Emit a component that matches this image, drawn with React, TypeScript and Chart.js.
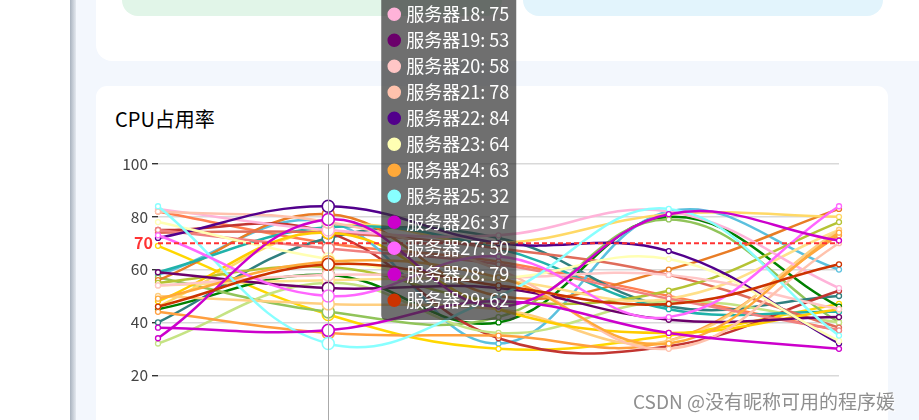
import React, { useEffect, useRef } from 'react';
import { Chart, registerables, Tooltip } from 'chart.js';

Chart.register(...registerables);

const FONT = '"Microsoft YaHei", "Noto Sans CJK SC", "Noto Sans", sans-serif';

const timeLabels = ['00:00', '04:00', '08:00', '12:00', '16:00'];

const serverNames = [
  '服务器0', '服务器1', '服务器2', '服务器3', '服务器4', '服务器5', '服务器6', '服务器7', '服务器8', '服务器9',
  '服务器10', '服务器11', '服务器12', '服务器13', '服务器14', '服务器15', '服务器16', '服务器17', '服务器18', '服务器19',
  '服务器20', '服务器21', '服务器22', '服务器23', '服务器24', '服务器25', '服务器26', '服务器27', '服务器28', '服务器29',
];

const serverColors = [
  '#ff7f50', '#5bc0de', '#ffd700', '#008000', '#91c45a', '#2f7f7f', '#e87c25', '#c23531', '#c5e384', '#ffd966',
  '#20b2aa', '#e06c5a', '#ff9f3f', '#b5c334', '#ffe08a', '#ffcf80', '#f08080', '#ffcc00', '#ffb3d9', '#6b006b',
  '#ffc6c6', '#ffc2ad', '#52008c', '#ffffb3', '#ffa93a', '#88ffff', '#cc00cc', '#ff66ff', '#cc00cc', '#cc3300',
];

const cpuValues = [
  [82, 70, 63, 50, 37],
  [58, 78, 32, 82, 60],
  [69, 43, 30, 35, 47],
  [45, 58, 40, 80, 46],
  [57, 44, 42, 79, 40],
  [40, 72, 72, 46, 50],
  [56, 81, 50, 60, 83],
  [75, 74, 34, 31, 52],
  [32, 55, 36, 48, 40],
  [46, 76, 70, 81, 80],
  [59, 76, 68, 45, 44],
  [74, 74, 68, 58, 38],
  [44, 36, 35, 33, 73],
  [55, 61, 48, 52, 78],
  [54, 56, 56, 49, 75],
  [50, 47, 45, 33, 75],
  [75, 68, 62, 49, 37],
  [48, 74, 45, 36, 45],
  [83, 75, 73, 82, 53],
  [59, 53, 53, 41, 42],
  [54, 58, 57, 58, 45],
  [82, 78, 60, 30, 70],
  [72, 84, 70, 67, 32],
  [78, 64, 57, 64, 33],
  [49, 63, 57, 32, 74],
  [84, 32, 50, 83, 35],
  [38, 37, 48, 36, 30],
  [73, 50, 65, 42, 84],
  [34, 79, 46, 81, 71],
  [46, 62, 54, 47, 62],
];

const yMin = 0;
const yMax = 100;
const yStep = 20;
const threshold = 70;
const hoveredIndex = 1;

(Tooltip.positioners as any).besidePointer = function (items: any[]) {
  if (!items.length) return false;
  const ca = this.chart.chartArea;
  return { x: items[0].element.x + 58, y: ca.top + 156 };
};

const overlayPlugin = {
  id: 'overlay',
  afterDatasetsDraw(chart: any) {
    const { ctx, chartArea: ca, scales } = chart;
    ctx.save();
    const active = chart.getActiveElements();
    if (active.length) {
      const x = Math.round(active[0].element.x) + 0.5;
      ctx.strokeStyle = '#aaaaaa';
      ctx.lineWidth = 1;
      ctx.beginPath();
      ctx.moveTo(x, ca.top);
      ctx.lineTo(x, ca.bottom);
      ctx.stroke();
    }
    const y = scales.y.getPixelForValue(threshold);
    ctx.setLineDash([5, 3]);
    ctx.strokeStyle = '#ff3333';
    ctx.lineWidth = 2;
    ctx.beginPath();
    ctx.moveTo(ca.left, y);
    ctx.lineTo(ca.right, y);
    ctx.stroke();
    ctx.setLineDash([]);
    ctx.fillStyle = '#ff3333';
    ctx.font = `bold 16px ${FONT}`;
    ctx.textAlign = 'right';
    ctx.textBaseline = 'middle';
    ctx.fillText(String(threshold), ca.left - 5, y);
    ctx.restore();
  },
};

function CpuChart() {
  const ref = useRef<HTMLCanvasElement | null>(null);
  useEffect(() => {
    if (!ref.current) return;
    const datasets = cpuValues.map((vals, i) => ({
      label: serverNames[i],
      data: vals,
      borderColor: serverColors[i],
      backgroundColor: serverColors[i],
      borderWidth: 2.5,
      tension: 0.4,
      fill: false,
      pointRadius: 2.5,
      pointBorderWidth: 1.3,
      pointBackgroundColor: '#fff',
      pointBorderColor: serverColors[i],
      pointHoverRadius: 6,
      pointHoverBorderWidth: 1.6,
      pointHoverBackgroundColor: '#fff',
      pointHoverBorderColor: serverColors[i],
      clip: false as any,
      order: -i,
    }));
    const chart = new Chart(ref.current, {
      type: 'line',
      data: { labels: timeLabels, datasets },
      plugins: [overlayPlugin],
      options: {
        animation: false,
        responsive: true,
        maintainAspectRatio: false,
        events: [],
        layout: { padding: { left: 98, right: 80, top: 724, bottom: 42 } },
        scales: {
          x: {
            grid: { display: false },
            border: { display: false },
            ticks: { color: '#444', font: { family: FONT, size: 15 } },
            afterFit: (s: any) => { s.height = 30; },
          },
          y: {
            min: yMin,
            max: yMax,
            ticks: { stepSize: yStep, color: '#444', padding: 4, font: { family: FONT, size: 15.5 } },
            grid: { color: '#d9d9d9', lineWidth: 1.4, tickColor: '#333', tickLength: 6, tickWidth: 1.4 },
            border: { display: false },
            afterFit: (s: any) => { s.width = 60; },
          },
        },
        plugins: {
          legend: { display: false },
          tooltip: {
            enabled: true,
            position: 'besidePointer' as any,
            xAlign: 'left',
            yAlign: 'bottom',
            caretSize: 0,
            caretPadding: 0,
            backgroundColor: 'rgba(50,50,50,0.7)',
            cornerRadius: 5,
            padding: { top: 8, bottom: 9, left: 7, right: 7 },
            bodyFont: { family: FONT, size: 18, lineHeight: 1.2 },
            bodyColor: '#ffffff',
            bodySpacing: 4.4,
            boxWidth: 12,
            boxHeight: 12,
            boxPadding: 4,
            usePointStyle: true,
            multiKeyBackground: 'rgba(0,0,0,0)',
            displayColors: true,
            callbacks: {
              title: () => '',
              label: (c: any) => `${c.dataset.label}: ${c.parsed.y}`,
              labelColor: (c: any) => ({
                borderColor: serverColors[c.datasetIndex],
                backgroundColor: serverColors[c.datasetIndex],
              }),
              labelPointStyle: () => ({ pointStyle: 'circle', rotation: 0 }),
            },
          },
        },
      } as any,
    });
    const active = cpuValues.map((_, i) => ({ datasetIndex: i, index: hoveredIndex }));
    chart.setActiveElements(active);
    chart.tooltip?.setActiveElements(active, { x: 0, y: 0 });
    chart.update();
    return () => chart.destroy();
  }, []);
  return (
    <div style={{ position: 'absolute', left: 0, top: -560, width: 919, height: 1060 }}>
      <canvas ref={ref} />
    </div>
  );
}

export default function App() {
  return (
    <div
      style={{
        position: 'fixed', left: 0, top: 0, width: 919, height: 420, overflow: 'hidden',
        background: '#ffffff', fontFamily: FONT,
      }}
    >
      <div style={{ position: 'absolute', left: 76, top: 0, right: 0, bottom: 0, background: '#f3f7fd' }} />
      <div style={{ position: 'absolute', left: 70, top: 0, width: 6, bottom: 0, background: 'linear-gradient(to right, #a9b3bf, #e4e9f0)' }} />
      <div style={{ position: 'absolute', left: 96, top: -60, width: 900, height: 121, background: '#ffffff', borderBottomLeftRadius: 16 }} />
      <div style={{ position: 'absolute', left: 122, top: -60, width: 380, height: 76, background: '#e1f5e8', borderRadius: 16 }} />
      <div style={{ position: 'absolute', left: 523, top: -60, width: 360, height: 76, background: '#e2f4fc', borderRadius: 16 }} />
      <div style={{ position: 'absolute', left: 96, top: 86, width: 792, height: 420, background: '#ffffff', borderRadius: 11 }} />
      <div style={{ position: 'absolute', left: 115, top: 107, fontSize: 20, lineHeight: '24px', color: '#000' }}>CPU占用率</div>
      <CpuChart />
      <div
        style={{
          position: 'absolute', left: 633, top: 388, fontSize: 19, lineHeight: '26px', color: '#8f8f8f',
          textShadow: '0 0 2px #fff, 1px 1px 1px #fff', whiteSpace: 'nowrap',
        }}
      >
        CSDN @没有昵称可用的程序媛
      </div>
    </div>
  );
}
